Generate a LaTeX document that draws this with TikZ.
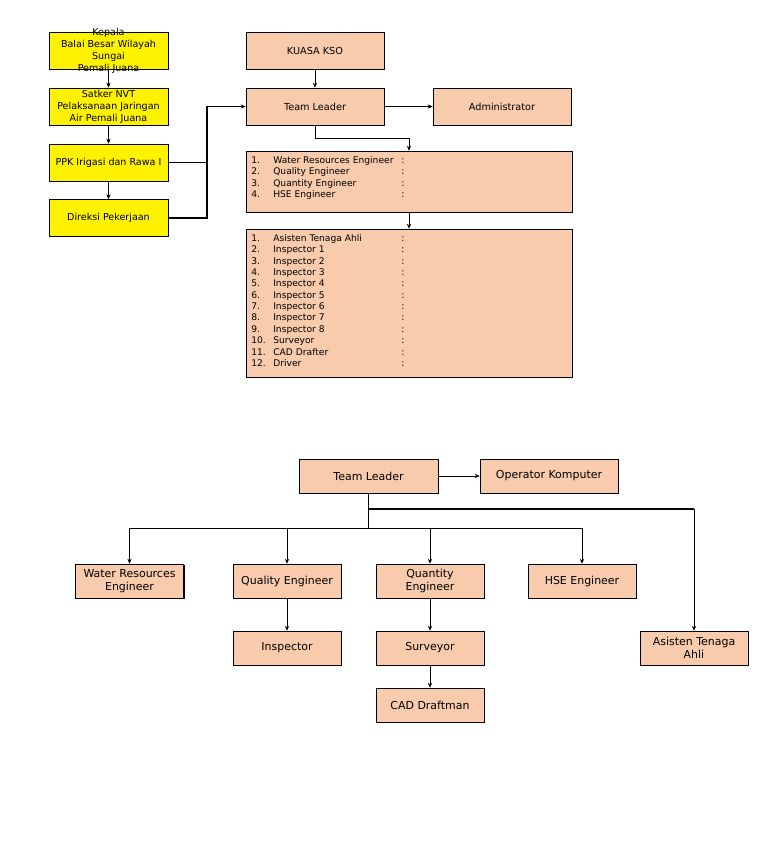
\documentclass[tikz,border=0pt]{standalone}
\usepackage{fontspec}
\setmainfont{DejaVu Sans}
\usetikzlibrary{arrows.meta,shadows}
\definecolor{peach}{HTML}{F8CBAD}
\newcommand{\baris}[2]{\makebox[0.55cm][l]{#1}\makebox[3.2cm][l]{#2}:}
\begin{document}
\begin{tikzpicture}[x=0.025cm, y=-0.025cm, >={Stealth[length=3.5pt,width=3pt]},
    kotak/.style={draw, fill=peach, inner sep=0pt, drop shadow={shadow xshift=0.7pt, shadow yshift=-0.7pt, opacity=1, fill=black}},
    kuning/.style={draw, fill=yellow, inner sep=0pt, minimum width=2.975cm, minimum height=0.925cm, drop shadow={shadow xshift=0.7pt, shadow yshift=-0.7pt, opacity=1, fill=black}},
    atas/.style={kotak, minimum width=3.45cm, minimum height=0.925cm, font=\fontsize{6.9}{8.5}\selectfont},
    bawah/.style={kotak, minimum width=2.7cm, minimum height=0.85cm, align=center, font=\fontsize{7.8}{9.2}\selectfont},
    kecil/.style={font=\fontsize{6.8}{8.5}\selectfont, align=center},
    daftar/.style={font=\fontsize{6.5}{8.1}\selectfont, align=left, inner sep=0pt, anchor=north west}]
    \useasboundingbox (0,0) rectangle (768,866);

    % kolom kuning
    \node[kuning, label={[kecil]center:Kepala\\Balai Besar Wilayah\\Sungai\\Pemali Juana}] (kepala) at (108.5,50.5) {};
    \node[kuning, kecil] (satker) at (108.5,106.5) {Satker NVT\\Pelaksanaan Jaringan\\Air Pemali Juana};
    \node[kuning, kecil] (ppk) at (108.5,162.5) {PPK Irigasi dan Rawa I};
    \node[kuning, kecil] (direksi) at (108.5,218) {Direksi Pekerjaan};

    \draw[->] (kepala) -- (satker);
    \draw[->] (satker) -- (ppk);
    \draw[->] (ppk) -- (direksi);

    % KSO
    \node[atas] (kso) at (315,50.5) {KUASA KSO};
    \node[atas] (tl) at (315,106.5) {Team Leader};
    \node[atas] (admin) at (502,106.5) {Administrator};
    \node[kotak, minimum width=8.15cm, minimum height=1.525cm] (list1) at (409,181.5) {};
    \node[kotak, minimum width=8.15cm, minimum height=3.7cm] (list2) at (409,303) {};

    \node[daftar] (isi1) at (251,156) {\baris{1.}{Water Resources Engineer}\\
        \baris{2.}{Quality Engineer}\\
        \baris{3.}{Quantity Engineer}\\
        \baris{4.}{HSE Engineer}};
    \node[daftar] (isi2) at (251,234) {\baris{1.}{Asisten Tenaga Ahli}\\
        \baris{2.}{Inspector 1}\\
        \baris{3.}{Inspector 2}\\
        \baris{4.}{Inspector 3}\\
        \baris{5.}{Inspector 4}\\
        \baris{6.}{Inspector 5}\\
        \baris{7.}{Inspector 6}\\
        \baris{8.}{Inspector 7}\\
        \baris{9.}{Inspector 8}\\
        \baris{10.}{Surveyor}\\
        \baris{11.}{CAD Drafter}\\
        \baris{12.}{Driver}};

    \coordinate (j) at (207,106.5);
    \draw (ppk.east) -- (ppk.east -| j);
    \draw[thick,->] (direksi.east) -| (j) -- (tl.west);
    \draw[->] (kso) -- (tl);
    \draw[->] (tl) -- (admin);
    \draw[->] (tl.south) -- ++(0,13) -| (list1.north);
    \draw[->] (list1.south) -- (list2.north);

    % struktur bawah
    \node[bawah, minimum width=3.475cm] (tl2) at (368.5,476) {Team Leader};
    \node[bawah, minimum width=3.45cm] (op) at (549,476) {Operator Komputer};
    \node[bawah] (wre) at (129.5,581) {Water Resources\\Engineer};
    \node[bawah] (qe) at (287,581) {Quality Engineer};
    \node[bawah] (qty) at (430,581) {Quantity\\Engineer};
    \node[bawah] (hse) at (582,581) {HSE Engineer};
    \node[bawah] (insp) at (287,648) {Inspector};
    \node[bawah] (surv) at (430,648) {Surveyor};
    \node[bawah] (cad) at (430,705) {CAD Draftman};
    \node[bawah] (ata) at (694,648) {Asisten Tenaga\\Ahli};

    \coordinate (cab) at (368.5,528);
    \coordinate (cab2) at (368.5,509);
    \draw[->] (tl2) -- (op);
    \draw (tl2.south) -- (cab);
    \draw (wre.north |- cab) -- (hse.north |- cab);
    \foreach \n in {wre,qe,qty,hse}
        \draw[->] (\n.north |- cab) -- (\n.north);
    \draw[thick] (cab2) -- (cab2 -| ata.north);
    \draw[->] (cab2 -| ata.north) -- (ata.north);
    \draw[->] (qe) -- (insp);
    \draw[->] (qty) -- (surv);
    \draw[->] (surv) -- (cad);
\end{tikzpicture}
\end{document}
